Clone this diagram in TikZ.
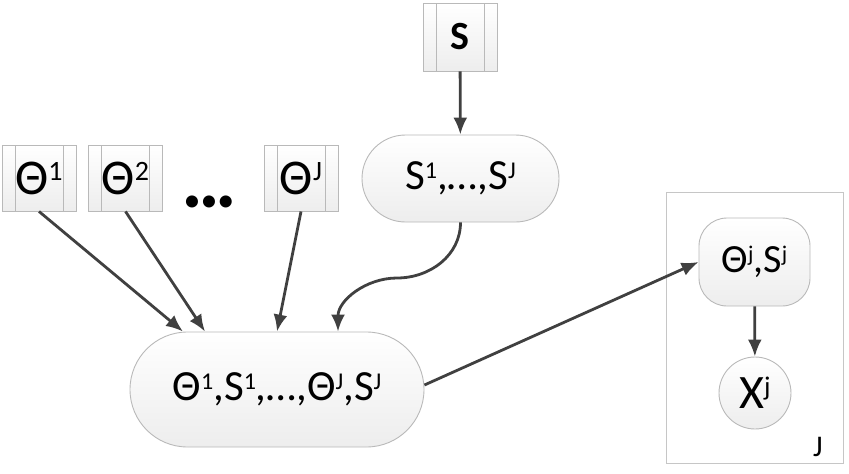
\documentclass[tikz,border=0pt]{standalone}
\usepackage{fontspec}
\setmainfont{Carlito}
\usetikzlibrary{shapes.misc,arrows.meta,calc}
\makeatletter
\newcommand\su[1]{\raisebox{0.27em}{\fontsize{\fpeval{0.56*\f@size}}{1}\selectfont #1}}
\makeatother
\newcommand\fsz[1]{\fontsize{#1}{#1}\selectfont}
\tikzset{
  nodefill/.style={draw=gray!55, line width=0.9pt, top color=white, bottom color=gray!14, text=black},
  varbox/.style={nodefill, rectangle, minimum width=74pt, minimum height=66pt, inner sep=0pt,
    font=\fsz{50},
    path picture={
      \draw[gray!55, line width=0.9pt] ([xshift=13pt]path picture bounding box.north west) -- ([xshift=13pt]path picture bounding box.south west);
      \draw[gray!55, line width=0.9pt] ([xshift=-13pt]path picture bounding box.north east) -- ([xshift=-13pt]path picture bounding box.south east);
    }},
  stad/.style={nodefill, rounded rectangle, inner sep=0pt},
  arr/.style={draw=black!75, line width=2.8pt, -{Latex[length=17pt,width=14pt]}},
  plate/.style={draw=gray!45, line width=0.9pt, inner sep=0pt},
}
\begin{document}
\begin{tikzpicture}[x=1pt,y=-1pt]
\useasboundingbox (0,0) rectangle (849,474);
\node[varbox] (t1) at (39,178) {Θ\su{1}};
\node[varbox] (t2) at (125.5,178) {Θ\su{2}};
\node[anchor=base, font=\fsz{34}] (dots) at (209,211) {•••};
\node[varbox] (tJ) at (301,178) {Θ\su{J}};
\node[varbox, minimum height=68pt, font=\fsz{40}\bfseries] (s) at (460,37) {S};
\node[stad, minimum width=197pt, minimum height=87pt, font=\fsz{43}] (sset) at (460.5,178.5) {S\su{1},…,S\su{J}};
\node[stad, minimum width=294pt, minimum height=115pt, font=\fsz{43}] (big) at (277,389.5) {Θ\su{1},S\su{1},…,Θ\su{J},S\su{J}};
\node[plate, minimum width=177pt, minimum height=271pt] (pl) at (754.5,327.5) {};
\node[font=\fsz{30}] (jl) at (818,447) {J};
\node[nodefill, rounded corners=28pt, minimum width=111pt, minimum height=88pt, inner sep=0pt, font=\fsz{40}] (thj) at (754.5,262) {Θ\su{j},S\su{j}};
\node[nodefill, circle, minimum size=72pt, inner sep=0pt, font=\fsz{48}] (x) at (755,393) {X\su{j}};
\coordinate (mid) at (397,278);
\draw[arr] (s) -- (sset);
\draw[arr] (t1.south) -- ([xshift=-94pt]big.north);
\draw[arr] (t2.south) -- ([xshift=-72pt]big.north);
\draw[arr] (tJ.south) -- (big.north);
\draw[arr] (sset.south) to[out=-90,in=0] (mid) to[out=180,in=90] ([xshift=61pt]big.north);
\draw[arr] ([yshift=4.5pt]big.east) -- (thj.west);
\draw[arr] (thj) -- (x);
\end{tikzpicture}
\end{document}
